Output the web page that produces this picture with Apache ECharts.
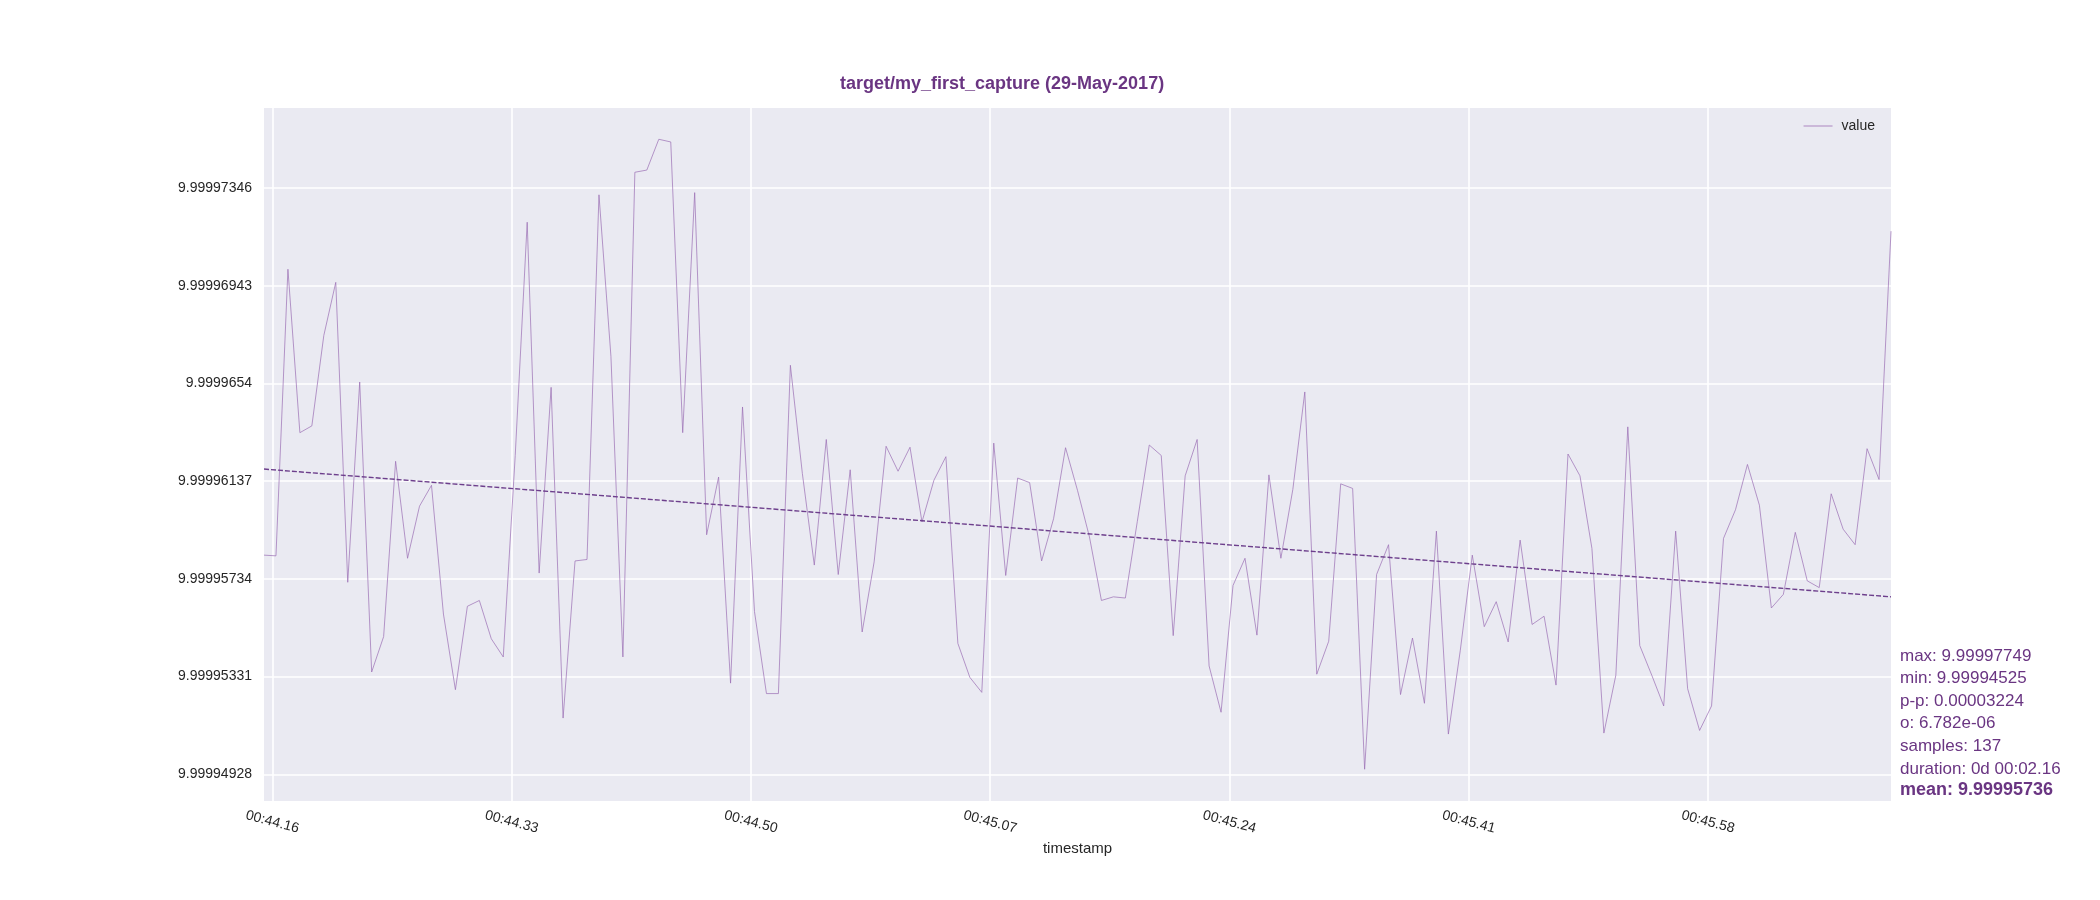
<!DOCTYPE html>
<html>
<head>
<meta charset="utf-8">
<title>target/my_first_capture</title>
<script src="https://cdn.jsdelivr.net/npm/echarts@6/dist/echarts.min.js"></script>
<style>
  html, body { margin: 0; padding: 0; background: #ffffff; }
  #capture_chart { width: 2100px; height: 900px; }
</style>
</head>
<body>
<div id="capture_chart"></div>
<script>
// samples, one per index (137 samples)
const values = [
  9.99995832, 9.99995829, 9.99997011, 9.99996337, 9.99996365, 9.99996738, 9.99996957, 9.99995720,
  9.99996546, 9.99995350, 9.99995496, 9.99996219, 9.99995819, 9.99996034, 9.99996120, 9.99995589,
  9.99995277, 9.99995621, 9.99995645, 9.99995487, 9.99995412, 9.99996243, 9.99997205, 9.99995758,
  9.99996524, 9.99995160, 9.99995808, 9.99995814, 9.99997318, 9.99996652, 9.99995412, 9.99997411,
  9.99997420, 9.99997547, 9.99997536, 9.99996337, 9.99997327, 9.99995916, 9.99996154, 9.99995304,
  9.99996443, 9.99995599, 9.99995261, 9.99995261, 9.99996615, 9.99996169, 9.99995791, 9.99996309,
  9.99995752, 9.99996184, 9.99995515, 9.99995804, 9.99996281, 9.99996178, 9.99996277, 9.99995969,
  9.99996141, 9.99996238, 9.99995468, 9.99995328, 9.99995266, 9.99996294, 9.99995748, 9.99996150,
  9.99996131, 9.99995808, 9.99995982, 9.99996275, 9.99996099, 9.99995907, 9.99995645, 9.99995660,
  9.99995655, 9.99995971, 9.99996286, 9.99996243, 9.99995500, 9.99996159, 9.99996309, 9.99995375,
  9.99995184, 9.99995707, 9.99995819, 9.99995502, 9.99996163, 9.99995819, 9.99996103, 9.99996505,
  9.99995341, 9.99995477, 9.99996126, 9.99996107, 9.99994949, 9.99995752, 9.99995875, 9.99995257,
  9.99995490, 9.99995221, 9.99995931, 9.99995094, 9.99995440, 9.99995832, 9.99995537, 9.99995640,
  9.99995474, 9.99995894, 9.99995546, 9.99995580, 9.99995296, 9.99996249, 9.99996159, 9.99995860,
  9.99995098, 9.99995337, 9.99996361, 9.99995459, 9.99995337, 9.99995210, 9.99995931, 9.99995281,
  9.99995109, 9.99995210, 9.99995901, 9.99996019, 9.99996206, 9.99996038, 9.99995614, 9.99995670,
  9.99995926, 9.99995726, 9.99995698, 9.99996085, 9.99995939, 9.99995875, 9.99996271, 9.99996144,
  9.99997168
];

// dashed trend line, value at first and last sample
const trendValues = [9.99996187, 9.99995660];

// y ticks as printed on the plot
const yTickValues = [9.99994928, 9.99995331, 9.99995734, 9.99996137, 9.9999654, 9.99996943, 9.99997346];
const yTickLabels = ['9.99994928', '9.99995331', '9.99995734', '9.99996137', '9.9999654', '9.99996943', '9.99997346'];

// x ticks sit at (fractional) sample positions
const xTickPositions = [0.7, 20.7, 40.7, 60.7, 80.7, 100.7, 120.7];
const xTickLabels = ['00:44.16', '00:44.33', '00:44.50', '00:45.07', '00:45.24', '00:45.41', '00:45.58'];

const statsLines = [
  'max: 9.99997749',
  'min: 9.99994525',
  'p-p: 0.00003224',
  'o: 6.782e-06',
  'samples: 137',
  'duration: 0d 00:02.16'
];
const meanLine = 'mean: 9.99995736';

const FONT = '"Liberation Sans", Arial, sans-serif';
const PURPLE = '#6a3582';
const TEXT = '#262626';

var chartDom = document.getElementById('capture_chart');
var captureChart = echarts.init(chartDom, null, { renderer: 'canvas' });

function nearestLabel(v, ticks, labels) {
  let best = 0;
  for (let i = 1; i < ticks.length; i++) {
    if (Math.abs(ticks[i] - v) < Math.abs(ticks[best] - v)) best = i;
  }
  return labels[best];
}

const statsGraphics = statsLines.map((txt, i) => ({
  type: 'text',
  x: 1900,
  y: 656 + i * 22.6,
  silent: true,
  style: {
    text: txt,
    fill: PURPLE,
    font: '17px ' + FONT,
    verticalAlign: 'middle'
  }
}));
statsGraphics.push({
  type: 'text',
  x: 1900,
  y: 790,
  silent: true,
  style: {
    text: meanLine,
    fill: PURPLE,
    font: 'bold 18px ' + FONT,
    verticalAlign: 'middle'
  }
});

var captureOption = {
  animation: false,
  backgroundColor: '#ffffff',
  textStyle: { fontFamily: FONT },
  title: {
    text: 'target/my_first_capture (29-May-2017)',
    left: 840,
    top: 75,
    padding: 0,
    textStyle: {
      color: PURPLE,
      fontSize: 18,
      fontWeight: 'bold',
      fontFamily: FONT
    }
  },
  legend: {
    data: ['value'],
    right: 225,
    top: 119,
    padding: 0,
    icon: 'rect',
    itemWidth: 29,
    itemHeight: 2,
    itemStyle: { color: '#cbb8d9', borderWidth: 0 },
    textStyle: { color: TEXT, fontSize: 14, fontFamily: FONT, padding: [0, 0, 0, 4] }
  },
  grid: {
    left: 264,
    right: 209,
    top: 108,
    bottom: 99,
    show: true,
    backgroundColor: '#eaeaf2',
    borderWidth: 0
  },
  xAxis: {
    type: 'value',
    min: 0,
    max: values.length - 1,
    name: 'timestamp',
    nameLocation: 'middle',
    nameGap: 47,
    nameTextStyle: { color: TEXT, fontSize: 15, fontFamily: FONT, verticalAlign: 'middle' },
    axisLine: { show: false },
    axisTick: { show: false, customValues: xTickPositions },
    axisLabel: {
      customValues: xTickPositions,
      rotate: -15,
      align: 'center',
      verticalAlign: 'middle',
      margin: 21,
      color: TEXT,
      fontSize: 14,
      fontFamily: FONT,
      formatter: v => nearestLabel(v, xTickPositions, xTickLabels)
    },
    splitLine: { show: true, lineStyle: { color: '#ffffff', width: 1.6 } }
  },
  yAxis: {
    type: 'value',
    min: 9.99994818,
    max: 9.99997676,
    scale: true,
    axisLine: { show: false },
    axisTick: { show: false, customValues: yTickValues },
    axisLabel: {
      customValues: yTickValues,
      margin: 12,
      color: TEXT,
      fontSize: 14,
      fontFamily: FONT,
      formatter: v => nearestLabel(v, yTickValues, yTickLabels)
    },
    splitLine: { show: true, lineStyle: { color: '#ffffff', width: 1.6 } }
  },
  series: [
    {
      name: 'value',
      type: 'line',
      symbol: 'none',
      silent: true,
      lineStyle: { color: '#9a6db3', width: 1, opacity: 0.7 },
      itemStyle: { color: '#cbb8d9' },
      data: values.map((v, i) => [i, v]),
      z: 3
    },
    {
      name: 'trend',
      type: 'line',
      symbol: 'none',
      silent: true,
      lineStyle: { color: '#6d3f8c', width: 1.4, type: [5, 2] },
      data: [[0, trendValues[0]], [values.length - 1, trendValues[1]]],
      z: 4
    }
  ],
  graphic: statsGraphics
};

captureOption && captureChart.setOption(captureOption);
</script>
</body>
</html>
